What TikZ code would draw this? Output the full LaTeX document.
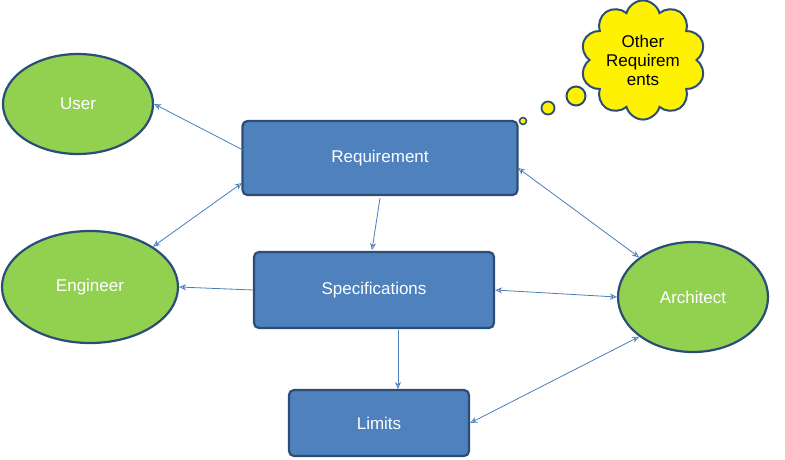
\documentclass[tikz,border=0pt]{standalone}
\usepackage{fontspec}
\setmainfont{Liberation Sans}
\usetikzlibrary{shapes.geometric,shapes.symbols,arrows.meta}
\definecolor{boxfill}{HTML}{4F81BD}
\definecolor{boxline}{HTML}{2C4D75}
\definecolor{ellfill}{HTML}{92D050}
\definecolor{arr}{HTML}{4A7EBB}
\tikzset{
  box/.style={draw=boxline, line width=2.2pt, fill=boxfill, rounded corners=5pt, text=white, font=\fontsize{17}{19}\selectfont},
  ell/.style={ellipse, draw=boxline, line width=2.2pt, fill=ellfill, text=white, font=\fontsize{17}{19}\selectfont},
  con/.style={draw=arr, line width=0.8pt, -{Stealth[length=7pt,width=6pt,open]}},
  bicon/.style={draw=arr, line width=0.8pt, {Stealth[length=7pt,width=6pt,open]}-{Stealth[length=7pt,width=6pt,open]}},
}
\begin{document}
\begin{tikzpicture}[x=1pt,y=-1pt]
\useasboundingbox (0,0) rectangle (785,459);
\node[box, minimum width=275pt, minimum height=74pt] (req) at (380,158) {Requirement};
\node[box, minimum width=240pt, minimum height=76pt] (spec) at (374,290) {Specifications};
\node[box, minimum width=180pt, minimum height=66pt] (lim) at (379,423) {Limits};
\node[ell, minimum width=150pt, minimum height=100pt] (user) at (78,104) {User};
\node[ell, minimum width=176pt, minimum height=112pt] (eng) at (90,287) {Engineer};
\node[ell, minimum width=150pt, minimum height=110pt] (arch) at (693,297) {Architect};
\node[cloud, cloud puffs=10, aspect=1.05, draw=boxline, line width=2pt, fill=yellow, inner sep=0pt, minimum width=125pt, minimum height=110pt, align=center, font=\fontsize{17}{19}\selectfont] (oth) at (643,60) {Other\\Requirem\\ents};
\node[circle, draw=boxline, line width=1.5pt, fill=yellow, minimum size=7pt, inner sep=0pt] (c1) at (523,121) {};
\node[circle, draw=boxline, line width=1.8pt, fill=yellow, minimum size=13pt, inner sep=0pt] (c2) at (548,108) {};
\node[circle, draw=boxline, line width=2pt, fill=yellow, minimum size=19pt, inner sep=0pt] (c3) at (576,96) {};
\coordinate (r1) at (243,150);
\coordinate (r2) at (242,183);
\coordinate (r3) at (518,168);
\draw[con] (r1) -- (user.east);
\draw[bicon] (r2) -- (eng.north east);
\draw[con] (req.south) ++(0,2) -- (372,250);
\draw[con] (spec.west) -- (eng.east);
\draw[bicon] (r3) -- (arch.north west);
\draw[bicon] (spec.east) -- (arch.west);
\draw[con] (398,330) -- (398,389);
\draw[bicon] (lim.east) -- (arch.south west);
\end{tikzpicture}
\end{document}
